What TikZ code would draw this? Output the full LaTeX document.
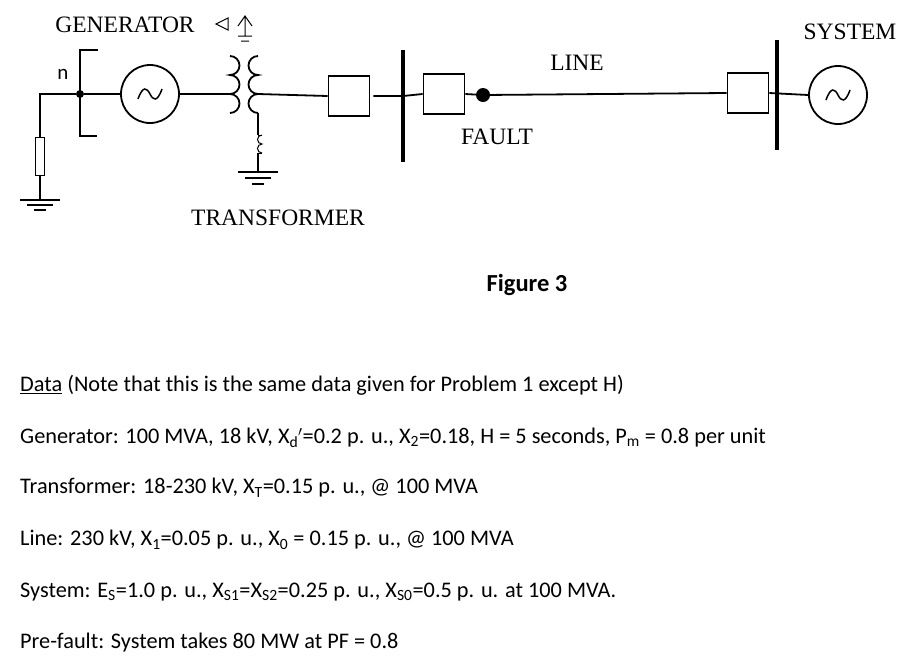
\documentclass[tikz,border=0pt]{standalone}
\usepackage{fontspec}
\setmainfont{Liberation Serif}
\newfontfamily\carl{Carlito}
\begin{document}
\begin{tikzpicture}[x=1pt,y=-1pt,
  wire/.style={line width=1.8pt},
  bus/.style={line width=4.5pt},
  brk/.style={draw,line width=1.8pt,minimum width=41pt,minimum height=40pt,inner sep=0pt},
  src/.style={draw,circle,line width=1.8pt,minimum size=58pt,inner sep=0pt},
  lbl/.style={font=\fontsize{23.5}{26}\selectfont},
  dat/.style={anchor=west,font=\carl\fontsize{22.3}{26}\selectfont,inner sep=0pt}]
\useasboundingbox (0,0) rectangle (915,665);
% labels
\node[lbl] (tgen) at (125,25) {GENERATOR};
\node[lbl] (tsys) at (850,32) {SYSTEM};
\node[lbl] (tline) at (577,63) {LINE};
\node[lbl] (tfault) at (497,137) {FAULT};
\node[lbl] (ttr) at (278,218) {TRANSFORMER};
\node[font=\carl\fontsize{21}{24}\selectfont] (tn) at (63,74) {n};
% delta / wye symbols
\draw[line width=1pt] (228,18) -- (216,24) -- (228,30) -- cycle;
\draw[line width=1pt] (245,16) -- (245,36) (238,26) -- (245,16) -- (252,26)
  (238,36) -- (252,36) (241,41) -- (249,41);
% bracket
\draw[wire] (98,50) -- (80,50) -- (80,136) -- (97,136);
\node[circle,fill,inner sep=0pt,minimum size=8pt] (n) at (80,94) {};
% neutral resistor
\coordinate (nl) at (40,94);
\node[draw,line width=1pt,minimum width=9pt,minimum height=38pt,inner sep=0pt] (r) at (40,156) {};
\coordinate (g1) at (40,200);
\draw[wire] (n) -- (nl) -- (r.north);
\draw[wire] (r.south) -- (g1);
\draw[wire] (20,200) -- (60,200) (27,205) -- (53,205) (34,210) -- (46,210);
% generator
\node[src] (gen) at (150,94) {};
\draw[line width=1.5pt] (138,99) .. controls (143,85) and (147,88) .. (150,94) .. controls (153,100) and (157,103) .. (162,89);
\draw[wire] (n) -- (gen);
% transformer
\coordinate (p0) at (230,94);
\draw[wire] (gen) -- (p0);
\draw[wire] (230,56) arc(-90:90:9.5) arc(-90:90:9.5) arc(-90:90:9.5);
\draw[wire] (258,56) arc(-90:-270:9.5) arc(-90:-270:9.5) arc(-90:-270:9.5);
\coordinate (s0) at (258,94);
\draw[wire] (258,113) -- (258,135);
\draw[line width=1pt] (262,135) arc(-90:-270:4.5) arc(-90:-270:4.5);
\draw[line width=1pt] (258,135) -- (262,135) (258,153) -- (262,153);
\draw[wire] (258,153) -- (258,172);
\draw[wire] (238,172) -- (278,172) (245,178) -- (271,178) (252,184) -- (264,184);
% breakers and buses
\node[brk] (b1) at (349,96) {};
\node[brk] (b2) at (444,94) {};
\node[brk] (b3) at (748,93) {};
\coordinate (bus1t) at (403,50); \coordinate (bus1b) at (403,162);
\coordinate (bus2t) at (777,40); \coordinate (bus2b) at (777,150);
\draw[bus] (bus1t) -- (bus1b);
\draw[bus] (bus2t) -- (bus2b);
\node[circle,fill,minimum width=14pt,minimum height=11pt,inner sep=0pt] (f) at (483,95) {};
\node[src] (sys) at (838,95) {};
\draw[line width=1.5pt] (826,100) .. controls (831,86) and (835,89) .. (838,95) .. controls (841,101) and (845,104) .. (850,90);
\draw[wire] (s0) -- (b1.west);
\draw[wire] (b1.east) ++(3,0) -- (403,96) -- (b2.west);
\draw[wire] (b2.east) -- (f) -- (b3.west);
\draw[wire] (b3.east) -- (sys.west);
% caption and data
\node[font=\carl\bfseries\fontsize{24.5}{28}\selectfont] (fig) at (527,285) {Figure 3};
\node[dat] (d1) at (20,385) {\underline{Data} (Note that this is the same data given for Problem 1 except H)};
\node[dat] (d2) at (20,438) {Generator: 100 MVA, 18 kV, X\textsubscript{d}$'$=0.2 p. u., X\textsubscript{2}=0.18, H = 5 seconds, P\textsubscript{m} = 0.8 per unit};
\node[dat] (d3) at (20,488) {Transformer: 18-230 kV, X\textsubscript{T}=0.15 p. u., @ 100 MVA};
\node[dat] (d4) at (20,540) {Line: 230 kV, X\textsubscript{1}=0.05 p. u., X\textsubscript{0} = 0.15 p. u., @ 100 MVA};
\node[dat] (d5) at (20,592) {System: E\textsubscript{S}=1.0 p. u., X\textsubscript{S1}=X\textsubscript{S2}=0.25 p. u., X\textsubscript{S0}=0.5 p. u. at 100 MVA.};
\node[dat] (d6) at (20,643) {Pre-fault: System takes 80 MW at PF = 0.8};
\end{tikzpicture}
\end{document}
